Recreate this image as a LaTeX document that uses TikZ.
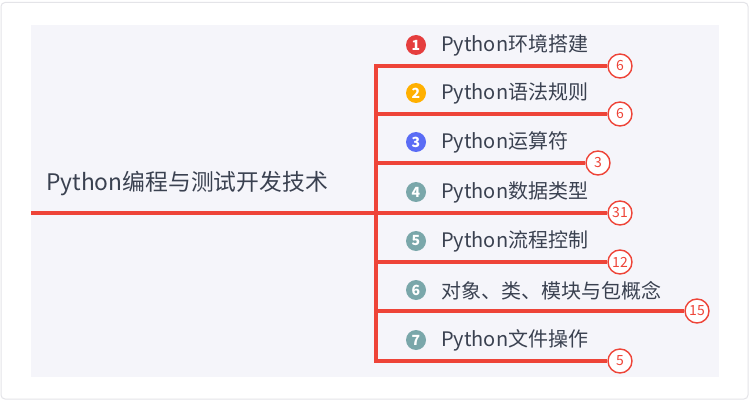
\documentclass[tikz,border=0pt]{standalone}
\usepackage{fontspec}
\setmainfont{Noto Sans CJK SC}
\definecolor{panel}{HTML}{F5F5FA}
\definecolor{frame}{HTML}{E4E4E8}
\definecolor{redline}{HTML}{EE4438}
\definecolor{txt}{HTML}{3A4150}
\definecolor{bone}{HTML}{E53E3E}
\definecolor{btwo}{HTML}{FFB000}
\definecolor{bthree}{HTML}{5A6CF5}
\definecolor{bteal}{HTML}{7AA7AA}
\tikzset{
  branchline/.style={draw=redline, line width=3.2pt},
  countnode/.style={circle, draw=redline, line width=1.4pt, fill=white, inner sep=0pt, minimum size=24pt, text=redline, font=\fontsize{14}{14}\selectfont},
  badge/.style={circle, fill=#1, inner sep=0pt, minimum size=20pt, text=white, font=\bfseries\fontsize{14}{14}\selectfont},
  label/.style={anchor=west, inner sep=0pt, text=txt, font=\fontsize{20}{22}\selectfont},
  roottext/.style={anchor=west, inner sep=0pt, text=txt, font=\fontsize{22.8}{24}\selectfont}
}
\begin{document}
\begin{tikzpicture}[x=1pt,y=-1pt]
\useasboundingbox (0,0) rectangle (749,401);
\fill[white] (0,0) rectangle (749,401);
\draw[frame, line width=1pt, rounded corners=4pt] (1,2.5) rectangle (748,399);
\fill[panel] (31,25) rectangle (719,377);

% root
\node[roottext] (root) at (46,184) {Python编程与测试开发技术};
\coordinate (rootstart) at (31,213);
\coordinate (junction) at (376,213);
\draw[branchline] (rootstart) -- (junction);
\draw[draw=redline, line width=4.4pt] (358,213) -- (junction);

% trunk
\coordinate (ttop) at (376,64.4);
\coordinate (tbot) at (376,362.6);
\draw[branchline] (ttop) -- (tbot);

% branch 1..7
\foreach \i/\y/\cx/\num/\col/\lab in {
  1/66/620/6/bone/{Python环境搭建},
  2/114/620/6/btwo/{Python语法规则},
  3/163/598/3/bthree/{Python运算符},
  4/213/620/31/bteal/{Python数据类型},
  5/262/620/12/bteal/{Python流程控制},
  6/311/697/15/bteal/{对象、类、模块与包概念},
  7/361/620/5/bteal/{Python文件操作}}{
  \coordinate (b\i) at (376,\y);
  \node[countnode] (c\i) at (\cx,\y) {\num};
  \draw[branchline] (b\i) -- (c\i.west);
  \node[badge=\col] (n\i) at (416,\y-21) {\i};
  \node[label] (l\i) at (441,\y-20.5) {\lab};
}
\end{tikzpicture}
\end{document}
